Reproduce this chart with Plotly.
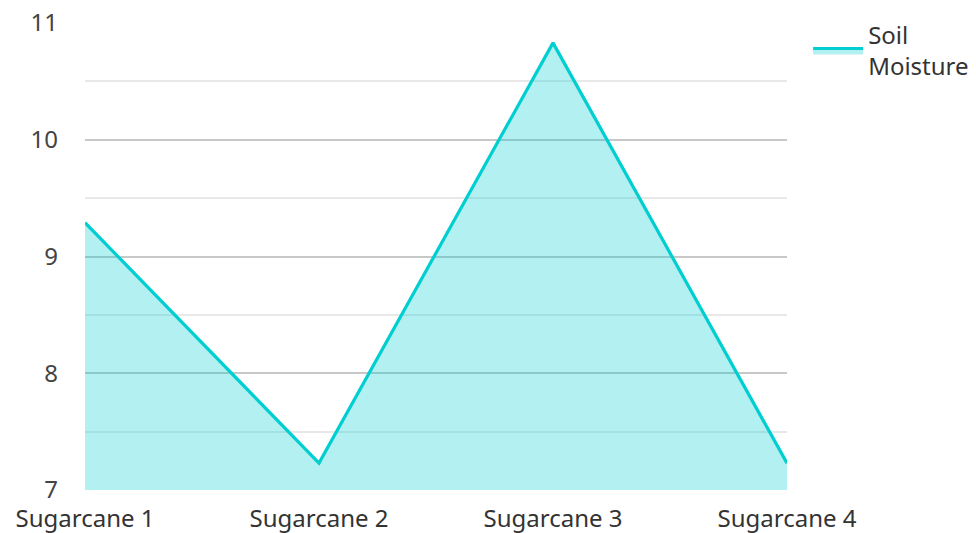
import plotly.graph_objects as go

# Soil moisture readings per field
fields = ["Sugarcane 1", "Sugarcane 2", "Sugarcane 3", "Sugarcane 4"]
soil_moisture = [9.29, 7.23, 10.83, 7.23]
y_ticks = [7, 8, 9, 10, 11]

line_color = "#00CED1"
font_family = "Noto Sans, Open Sans, sans-serif"

fig = go.Figure()
fig.add_trace(go.Scatter(
    x=fields,
    y=soil_moisture,
    mode="lines",
    name="Soil<br>Moisture",
    line=dict(color=line_color, width=3.2),
    fill="tozeroy",
    fillcolor="rgba(0,206,209,0.3)",
))

fig.update_layout(
    width=976,
    height=533,
    margin=dict(l=85, r=189, t=23, b=43),
    paper_bgcolor="white",
    plot_bgcolor="white",
    font=dict(family=font_family, size=24, color="#444"),
    showlegend=True,
    legend=dict(xref="container", yref="container",
                x=0.828, y=0.976, xanchor="left", yanchor="top",
                itemwidth=50,
                font=dict(size=24, color="#333"), tracegroupgap=0),
    xaxis=dict(
        type="category",
        range=[0, len(fields) - 1],
        showgrid=False,
        showline=False,
        zeroline=False,
        automargin=False,
        ticks="",
        ticklabelstandoff=12,
        tickfont=dict(size=24, color="#333"),
    ),
    yaxis=dict(
        range=[7, 11],
        tickvals=y_ticks,
        showgrid=True,
        gridcolor="#c8c8c8",
        gridwidth=1.5,
        zeroline=False,
        showline=False,
        automargin=False,
        ticks="",
        ticklabelstandoff=26,
        tickfont=dict(size=24, color="#444"),
        minor=dict(dtick=0.5, showgrid=True, gridcolor="#e8e8e8", gridwidth=1.5),
    ),
)

fig.write_html("out.html")
